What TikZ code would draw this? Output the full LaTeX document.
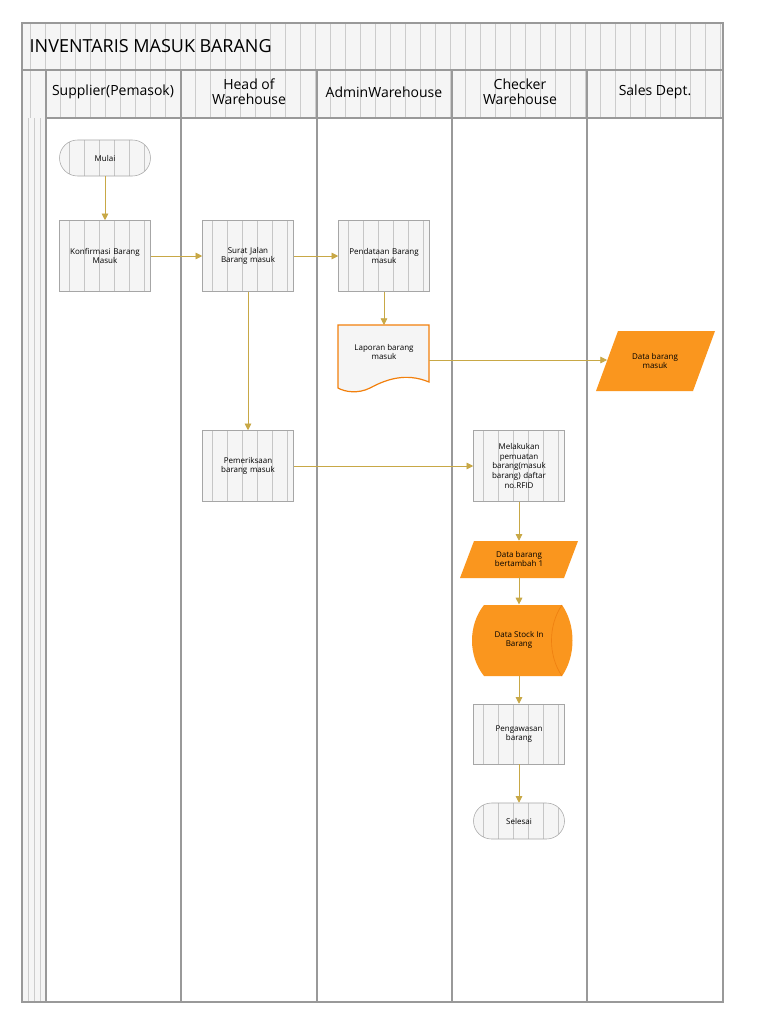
\documentclass[tikz,border=0pt]{standalone}
\usepackage{fontspec}
\setmainfont{Open Sans}
\usetikzlibrary{shapes.geometric,arrows.meta}
\definecolor{arrc}{RGB}{200,168,70}
\definecolor{orng}{RGB}{250,150,30}
\begin{document}
\begin{tikzpicture}[x=0.75pt,y=-0.75pt,
  stripes/.style={path picture={\foreach \i in {0,15,...,120}{\draw[gray!45,line width=0.4pt] ([xshift=\i*0.75pt+7pt]path picture bounding box.north west) -- ([xshift=\i*0.75pt+7pt]path picture bounding box.south west);}}},
  proc/.style={draw=gray!70,fill=gray!8,stripes,minimum width=68.25pt,minimum height=53.25pt,inner sep=1pt,align=center,font=\fontsize{6}{7.2}\selectfont,text width=62pt},
  term/.style={draw=gray!70,fill=gray!8,stripes,rounded corners=13.5pt,minimum width=68.25pt,minimum height=27pt,align=center,font=\fontsize{6}{7.2}\selectfont},
  lbl/.style={align=center,font=\fontsize{6}{7.2}\selectfont},
  arr/.style={-{Triangle[length=5pt,width=5pt]},draw=arrc,line width=0.6pt},
  hdr/.style={align=center,font=\fontsize{10.5}{11.5}\selectfont}]
\useasboundingbox (0,0) rectangle (768,1024);
\fill[white] (0,0) rectangle (768,1024);
\fill[gray!8] (22,23) rectangle (723,118);
\fill[gray!8] (22,70) rectangle (46,1002);
\foreach \x in {30,45,...,720}{\draw[gray!40,line width=0.4pt] (\x,23) -- (\x,118);}
\foreach \x in {28,34,40}{\draw[gray!40,line width=0.4pt] (\x,118) -- (\x,1002);}
\draw[gray!80,line width=0.8pt] (22,23) rectangle (723,1002);
\draw[gray!80,line width=0.8pt] (22,70) -- (723,70);
\draw[gray!80,line width=1.2pt] (46,118) -- (723,118);
\foreach \x in {46,181,317,452,587}{\draw[gray!80,line width=1pt] (\x,70) -- (\x,1002);}
\node[anchor=west,font=\fontsize{13.5}{15}\selectfont] (title) at (25,46) {INVENTARIS MASUK BARANG};
\node[hdr] (h1) at (113,92) {Supplier(Pemasok)};
\node[hdr] (h2) at (249,92) {Head of\\Warehouse};
\node[hdr] (h3) at (384,92) {AdminWarehouse};
\node[hdr] (h4) at (520,92) {Checker\\Warehouse};
\node[hdr] (h5) at (655,92) {Sales Dept.};
% shapes
\node[term] (mulai) at (105,158) {Mulai};
\node[proc] (konf) at (105,256) {Konfirmasi Barang\\Masuk};
\node[proc] (surat) at (248,256) {Surat Jalan\\Barang masuk};
\node[proc] (pend) at (384,256) {Pendataan Barang\\masuk};
\draw[orange!80!brown,fill=gray!8,line width=0.9pt] (338,325) -- (429,325) -- (429,382) .. controls (405,372) and (385,380) .. (370,388) .. controls (358,394) and (345,392) .. (338,388) -- cycle;
\node[lbl] (lap) at (384,352) {Laporan barang\\masuk};
\coordinate (lapin) at (384,325);
\coordinate (lapout) at (429,360);
% data barang masuk
\fill[orng] (618,331) -- (715,331) -- (693,391) -- (596,391) -- cycle;
\node[lbl,minimum width=80pt,minimum height=40pt] (dbm) at (655,361) {Data barang\\masuk};
\coordinate (dbmin) at (607,360);
\node[proc] (pem) at (248,466) {Pemeriksaan\\barang masuk};
\node[proc] (mel) at (519,466) {Melakukan\\pemuatan\\barang(masuk\\barang) daftar\\no.RFID};
\fill[orng] (474,541) -- (578,541) -- (564,578) -- (460,578) -- cycle;
\node[lbl,minimum width=70pt,minimum height=27pt] (bert) at (519,559) {Data barang\\bertambah 1};
\fill[orng] (484,605) -- (562,605) .. controls (576,625) and (576,656) .. (562,676) -- (484,676) .. controls (468,656) and (468,625) .. (484,605) -- cycle;
\draw[orange!75!brown,line width=0.5pt] (562,605) .. controls (548,625) and (548,656) .. (562,676);
\node[lbl,minimum width=68pt,minimum height=53pt] (stock) at (519,640) {Data Stock In\\Barang};
\node[proc,minimum height=45pt] (peng) at (519,734) {Pengawasan\\barang};
\node[term] (sel) at (519,821) {Selesai};
% connectors
\draw[arr] (mulai) -- (konf);
\draw[arr] (konf) -- (surat);
\draw[arr] (surat) -- (pend);
\draw[arr] (pend) -- (lapin);
\draw[arr] (lapout) -- (dbmin);
\draw[arr] (surat) -- (pem);
\draw[arr] (pem) -- (mel);
\draw[arr] (mel) -- (bert);
\draw[arr] (bert) -- (stock);
\draw[arr] (stock) -- (peng);
\draw[arr] (peng) -- (sel);
\end{tikzpicture}
\end{document}
